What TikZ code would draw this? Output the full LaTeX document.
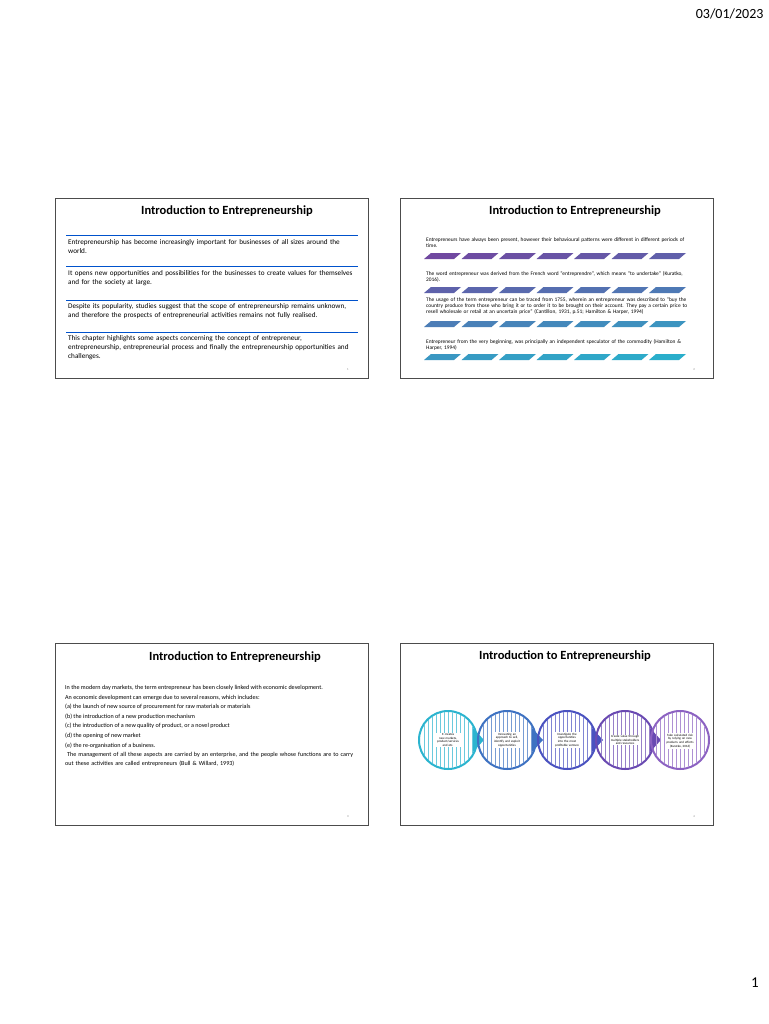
\documentclass[tikz,border=0pt]{standalone}
\usepackage{fontspec}
\setmainfont{Carlito}
\begin{document}
\hyphenpenalty=10000
\begin{tikzpicture}[x=1pt,y=-1pt,
  slide/.style={draw=black!70,line width=0.6pt},
  ttl/.style={font=\fontsize{12.5}{13}\selectfont\bfseries},
  bt/.style={font=\fontsize{7.2}{9}\selectfont,anchor=north west,align=left,text width=288pt,inner sep=0},
  st/.style={font=\fontsize{5.4}{6}\selectfont,anchor=north west,align=left,text width=262pt,inner sep=0},
  tt/.style={font=\fontsize{6.1}{9.6}\selectfont,anchor=north west,align=left,inner sep=0},
  pn/.style={font=\fontsize{3}{3}\selectfont,text=gray},
  sep/.style={draw=blue!60!cyan!80!black,line width=0.5pt},
  ct/.style={font=\fontsize{3.2}{3.8}\selectfont,align=center,text width=30pt,fill=white,inner sep=0.5pt}]
\useasboundingbox (0,0) rectangle (768,1024);
\fill[white] (0,0) rectangle (768,1024);
\node[font=\fontsize{14}{16}\selectfont,anchor=east] (date) at (767,14) {03/01/2023};
\node[font=\fontsize{15}{16}\selectfont] (pg) at (755,983) {1};
% slide 1
\draw[slide] (55,198) rectangle (368,378);
\node[ttl] (t1) at (227,211) {Introduction to Entrepreneurship};
\foreach \y in {235,266,300,332} \draw[sep] (66,\y) -- (358,\y);
\node[bt] (a1) at (68,239) {Entrepreneurship has become increasingly important for businesses of all sizes around the world.};
\node[bt] (a2) at (68,270) {It opens new opportunities and possibilities for the businesses to create values for themselves and for the society at large.};
\node[bt] (a3) at (68,303) {Despite its popularity, studies suggest that the scope of entrepreneurship remains unknown, and therefore the prospects of entrepreneurial activities remains not fully realised.};
\node[bt] (a4) at (68,335) {This chapter highlights some aspects concerning the concept of entrepreneur, entrepreneurship, entrepreneurial process and finally the entrepreneurship opportunities and challenges.};
\node[pn] (p1) at (348,370) {1};
% slide 2
\draw[slide] (400,198) rectangle (713,378);
\node[ttl] (t2) at (575,211) {Introduction to Entrepreneurship};
\node[st] (b1) at (426,238) {Entrepreneurs have always been present, however their behavioural patterns were different in different periods of time.};
\node[st] (b2) at (426,271) {The word entrepreneur was derived from the French word “entreprendre”, which means “to undertake” (Kuratko, 2016).};
\node[st] (b3) at (426,297) {The usage of the term entrepreneur can be traced from 1755, wherein an entrepreneur was described to “buy the country produce from those who bring it or to order it to be brought on their account. They pay a certain price to resell wholesale or retail at an uncertain price” (Cantillon, 1931, p.51; Hamilton \& Harper, 1994)};
\node[st] (b4) at (426,339) {Entrepreneur from the very beginning, was principally an independent speculator of the commodity (Hamilton \& Harper, 1994)};
\definecolor{ga}{HTML}{7048A0}\definecolor{gb}{HTML}{2AAECB}
\foreach \y/\r in {256/0,290/1,324/2,357/3}{
  \foreach \i in {0,...,6}{
    \pgfmathsetmacro{\m}{100-(\r*7+\i)/27*100}
    \colorlet{pc}{ga!\m!gb}
    \fill[pc] (424+\i*37.5,\y+3) -- (431+\i*37.5,\y-3) -- (461+\i*37.5,\y-3) -- (454+\i*37.5,\y+3) -- cycle;
  }}
\node[pn] (p2) at (694,370) {2};
% slide 3
\draw[slide] (55,643) rectangle (368,825);
\node[ttl] (t3) at (235,657) {Introduction to Entrepreneurship};
\node[tt] (c1) at (65,685) {In the modern day markets, the term entrepreneur has been closely linked with economic development.\\
An economic development can emerge due to several reasons, which includes:\\
(a) the launch of new source of procurement for raw materials or materials\\
(b) the introduction of a new production mechanism\\
(c) the introduction of a new quality of product, or a novel product\\
(d) the opening of new market\\
(e) the re-organisation of a business.};
\node[tt,font=\fontsize{6.1}{8.6}\selectfont,text width=295pt] (c2) at (65,752) {\ The management of all these aspects are carried by an enterprise, and the people whose functions are to carry out these activities are called entrepreneurs (Bull \& Willard, 1993)};
\node[pn] (p3) at (348,817) {3};
% slide 4
\draw[slide] (400,643) rectangle (713,825);
\node[ttl] (t4) at (565,656) {Introduction to Entrepreneurship};
\definecolor{k1}{HTML}{2BB4CF}\definecolor{k2}{HTML}{3E72C2}
\definecolor{k3}{HTML}{4A52C0}\definecolor{k4}{HTML}{6A4AB2}\definecolor{k5}{HTML}{8C62C2}
\foreach \x/\c/\a in {448/k1/1,507/k2/1,567/k3/1,625/k4/1,680/k5/0}{
  \ifnum\a=1 \fill[\c] (\x+24,727) -- (\x+36,740) -- (\x+24,753) -- cycle; \fi
  \begin{scope}
   \clip (\x,740) circle (28);
   \foreach \d in {-24,-20,...,24} \draw[\c!70,line width=0.4pt] (\x+\d,710) -- (\x+\d,770);
  \end{scope}
  \draw[\c,line width=2pt] (\x,740) circle (29);
}
\node[ct] (d1) at (448,740) {It creates new markets, product/services and etc.};
\node[ct] (d2) at (507,740) {Innovating an approach to sell, identify and exploit opportunities};
\node[ct] (d3) at (567,740) {Investigate the opportunities into the most profitable venture};
\node[ct] (d4) at (625,740) {Create value through multiple stakeholders and resources};
\node[ct] (d5) at (680,741) {Take calculated risk by relying on new products and efforts (Kuratko, 2016)};
\node[pn] (p4) at (694,817) {4};
\end{tikzpicture}
\end{document}
